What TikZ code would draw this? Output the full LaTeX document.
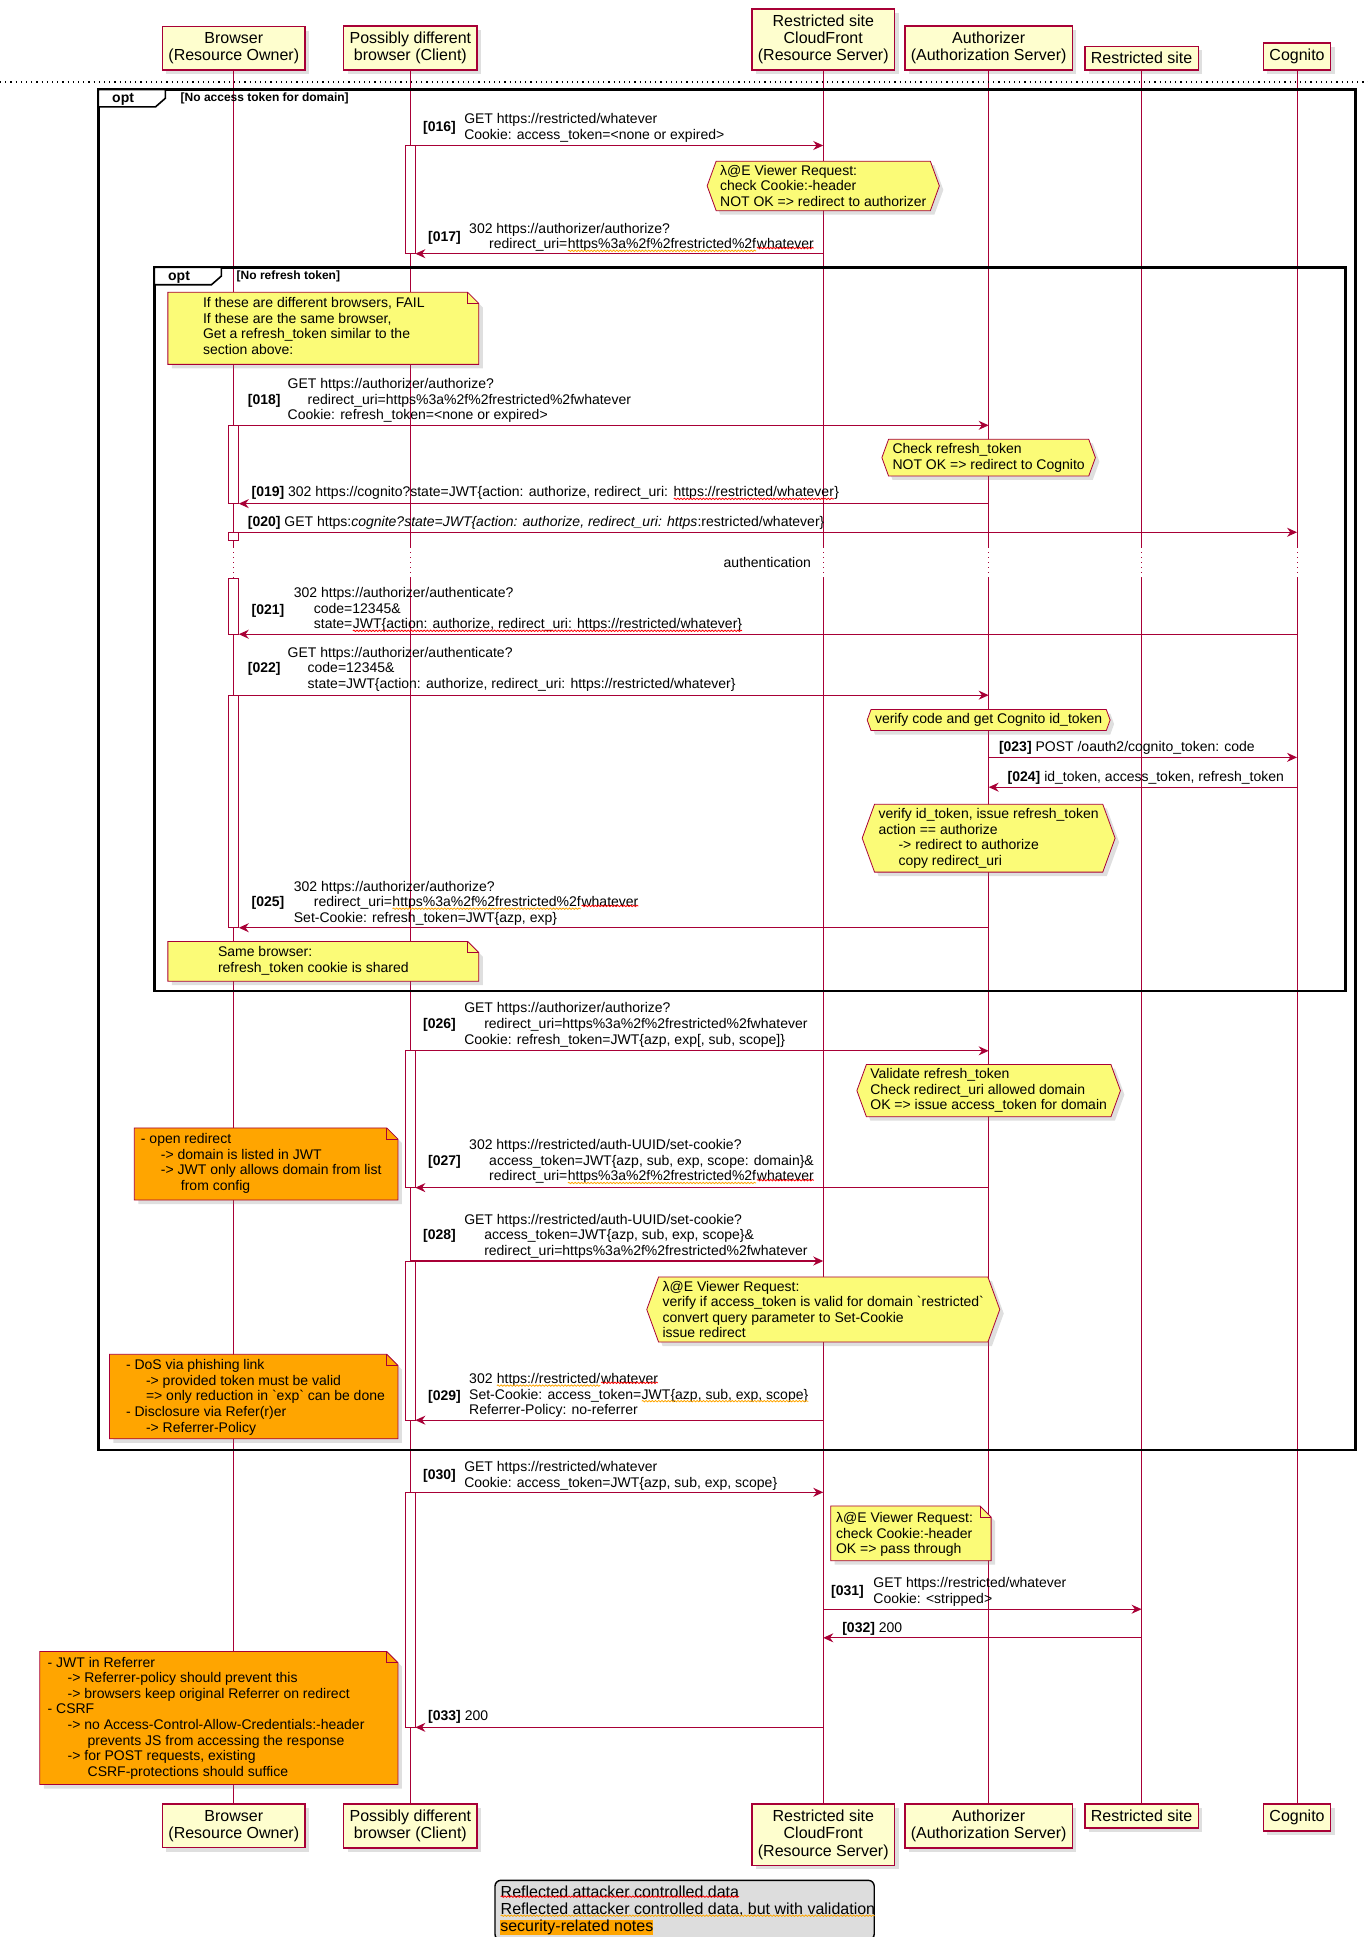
\documentclass[tikz,border=0pt]{standalone}
\usepackage{fontspec}
\setmainfont{Liberation Sans}
\usetikzlibrary{arrows.meta,shapes.symbols,shadows,decorations.pathmorphing}
\definecolor{lc}{HTML}{A80036}
\definecolor{pfill}{HTML}{FEFECE}
\definecolor{ny}{HTML}{FBFB77}
\definecolor{no}{HTML}{FFA500}
\definecolor{lg}{HTML}{DDDDDD}
\newcommand\wv[2]{\tikz[x=1cm,y=1cm,baseline=(wvn.base),every node/.style={}]{\node[inner sep=0pt,outer sep=0pt] (wvn) {#2};\draw[#1,line width=0.4pt,decorate,decoration={snake,amplitude=0.35pt,segment length=1.6pt}] ([yshift=0.4pt]wvn.base west |- wvn.south) -- ([yshift=0.4pt]wvn.south east);}}
\newcommand\rw[1]{\wv{red}{#1}}
\newcommand\ow[1]{\wv{no}{#1}}
\newcommand\ind{\hspace*{10pt}}
\newcommand\foldnote[5]{%
 \draw[lc,fill=#1,drop shadow={opacity=0.25,shadow xshift=2pt,shadow yshift=-2pt}] (#2,#3) -- (#4-9,#3) -- (#4,#3+9) -- (#4,#5) -- (#2,#5) -- cycle;
 \draw[lc] (#4-9,#3) -- (#4-9,#3+9) -- (#4,#3+9);}
\begin{document}
\begin{tikzpicture}[x=0.6218pt,y=-0.6218pt,
  every node/.style={font=\fontsize{7}{7.8}\selectfont},
  part/.style={draw=lc,fill=pfill,align=center,inner sep=3pt,font=\fontsize{8}{8.6}\selectfont,line width=0.8pt,drop shadow={opacity=0.25,shadow xshift=2pt,shadow yshift=-2pt}},
  life/.style={lc,line width=0.5pt},
  msg/.style={lc,line width=0.6pt,-{Stealth[length=5pt,width=4.5pt]}},
  act/.style={lc,fill=white,line width=0.5pt},
  lbl/.style={anchor=north west,inner sep=0pt,align=left},
  idx/.style={anchor=west,inner sep=0pt,font=\fontsize{7}{7.8}\selectfont\bfseries},
  hex/.style={signal,signal to=west and east,signal pointer angle=140,draw=lc,fill=ny,align=left,inner sep=2pt,drop shadow={opacity=0.25,shadow xshift=2pt,shadow yshift=-2pt}},
  frame/.style={line width=1.3pt,black}]
\useasboundingbox (0,0) rectangle (1100,1557.6);
% participants
\node[part,anchor=south] (b) at (188,57) {Browser\\(Resource Owner)};
\node[part,anchor=south] (c) at (330,57) {Possibly different\\browser (Client)};
\node[part,anchor=south] (cf) at (662,57) {Restricted site\\CloudFront\\(Resource Server)};
\node[part,anchor=south] (au) at (795,57) {Authorizer\\(Authorization Server)};
\node[part,anchor=south] (rs) at (918,57) {Restricted site};
\node[part,anchor=south] (cg) at (1043,57) {Cognito};
\node[part,anchor=north] (b2) at (188,1450) {Browser\\(Resource Owner)};
\node[part,anchor=north] (c2) at (330,1450) {Possibly different\\browser (Client)};
\node[part,anchor=north] (cf2) at (662,1450) {Restricted site\\CloudFront\\(Resource Server)};
\node[part,anchor=north] (au2) at (795,1450) {Authorizer\\(Authorization Server)};
\node[part,anchor=north] (rs2) at (918,1450) {Restricted site};
\node[part,anchor=north] (cg2) at (1043,1450) {Cognito};
\foreach \p in {b,c,cf,au,rs,cg}{
  \draw[life] (\p.south) -- (\p.south |- 0,440);
  \draw[life,dotted] (\p.south |- 0,440) -- (\p.south |- 0,465);
  \draw[life] (\p.south |- 0,465) -- (\p2.north);}
\draw[dotted,line width=0.6pt] (0,66) -- (1100,66);
\node (auth) at (617,452) {authentication};
% frames
\draw[frame] (79,72) rectangle (1090,1166);
\draw[line width=0.8pt,fill=white] (79,72) -- (133,72) -- (133,79) -- (125,86) -- (79,86) -- cycle;
\node[font=\fontsize{7}{7.8}\selectfont\bfseries] (o1) at (99,80) {opt};
\node[anchor=west,inner sep=0pt,font=\fontsize{6}{7}\selectfont\bfseries] (o1t) at (145,79) {[No access token for domain]};
\draw[frame] (124,215) rectangle (1082,797);
\draw[line width=0.8pt,fill=white] (124,215) -- (178,215) -- (178,222) -- (170,229) -- (124,229) -- cycle;
\node[font=\fontsize{7}{7.8}\selectfont\bfseries] (o2) at (144,223) {opt};
\node[anchor=west,inner sep=0pt,font=\fontsize{6}{7}\selectfont\bfseries] (o2t) at (190,222) {[No refresh token]};
% activations
\draw[act] (326,117) rectangle (334,204);
\draw[act] (184,342) rectangle (192,405);
\draw[act] (184,428) rectangle (192,435);
\draw[act] (184,465) rectangle (192,510);
\draw[act] (184,559) rectangle (192,746);
\draw[act] (326,845) rectangle (334,955);
\draw[act] (326,1014) rectangle (334,1142);
\draw[act] (326,1200) rectangle (334,1389);
% 016
\draw[msg] (c.south |- 0,117) -- (cf.south |- 0,117);
\node[idx] (i016) at (340,103) {[016]};
\node[lbl] (l016) at (373,91) {GET https://restricted/whatever\\Cookie: access\_token=<none or expired>};
\node[hex] (h1) at (662,149.5) {λ@E Viewer Request:\\check Cookie:-header\\NOT OK => redirect to authorizer};
% 017
\draw[msg] (cf.south |- 0,204) -- (334,204);
\node[idx] (i017) at (344,191) {[017]};
\node[lbl] (l017) at (377,179) {302 https://authorizer/authorize?\\\ind redirect\_uri=\ow{https\%3a\%2f\%2frestricted\%2f}\rw{whatever}};
% inner
\foldnote{ny}{135}{235}{385}{293}
\node[lbl] (n1) at (163,239) {If these are different browsers, FAIL\\If these are the same browser,\\Get a refresh\_token similar to the\\section above:};
% 018
\draw[msg] (192,342) -- (au.south |- 0,342);
\node[idx] (i018) at (199,322) {[018]};
\node[lbl] (l018) at (231,304) {GET https://authorizer/authorize?\\\ind redirect\_uri=https\%3a\%2f\%2frestricted\%2fwhatever\\Cookie: refresh\_token=<none or expired>};
\node[hex] (h2) at (795,368) {Check refresh\_token\\NOT OK => redirect to Cognito};
% 019
\draw[msg] (au.south |- 0,405) -- (192,405);
\node[lbl] (l019) at (202,391) {\textbf{[019]} 302 https://cognito?state=JWT\{action: authorize, redirect\_uri: \rw{https://restricted/whatever}\}};
% 020
\draw[msg] (192,428) -- (cg.south |- 0,428);
\node[lbl] (l020) at (199,415) {\textbf{[020]} GET https:\textit{cognite?state=JWT\{action: authorize, redirect\_uri: https}:restricted/whatever\}};
% 021
\draw[msg] (cg.south |- 0,510) -- (192,510);
\node[idx] (i021) at (202,491) {[021]};
\node[lbl] (l021) at (236,472) {302 https://authorizer/authenticate?\\\ind code=12345\&\\\ind state=\rw{JWT\{action: authorize, redirect\_uri: https://restricted/whatever\}}};
% 022
\draw[msg] (192,559) -- (au.south |- 0,559);
\node[idx] (i022) at (199,538) {[022]};
\node[lbl] (l022) at (231,520) {GET https://authorizer/authenticate?\\\ind code=12345\&\\\ind state=JWT\{action: authorize, redirect\_uri: https://restricted/whatever\}};
\node[hex] (h3) at (795,579) {verify code and get Cognito id\_token};
% 023 024
\draw[msg] (au.south |- 0,609) -- (cg.south |- 0,609);
\node[lbl] (l023) at (803,596) {\textbf{[023]} POST /oauth2/cognito\_token: code};
\draw[msg] (cg.south |- 0,633) -- (au.south |- 0,633);
\node[lbl] (l024) at (810,620) {\textbf{[024]} id\_token, access\_token, refresh\_token};
\node[hex] (h4) at (795,674) {verify id\_token, issue refresh\_token\\action == authorize\\\ind -> redirect to authorize\\\ind copy redirect\_uri};
% 025
\draw[msg] (au.south |- 0,746) -- (192,746);
\node[idx] (i025) at (202,726) {[025]};
\node[lbl] (l025) at (236,708) {302 https://authorizer/authorize?\\\ind redirect\_uri=\ow{https\%3a\%2f\%2frestricted\%2f}\rw{whatever}\\Set-Cookie: refresh\_token=JWT\{azp, exp\}};
\foldnote{ny}{135}{757}{385}{789}
\node[lbl] (n2) at (175,761) {Same browser:\\refresh\_token cookie is shared};
% 026
\draw[msg] (c.south |- 0,845) -- (au.south |- 0,845);
\node[idx] (i026) at (340,824) {[026]};
\node[lbl] (l026) at (373,806) {GET https://authorizer/authorize?\\\ind redirect\_uri=https\%3a\%2f\%2frestricted\%2fwhatever\\Cookie: refresh\_token=JWT\{azp, exp[, sub, scope]\}};
\node[hex] (h5) at (795,877) {Validate refresh\_token\\Check redirect\_uri allowed domain\\OK => issue access\_token for domain};
\foldnote{no}{108}{907}{320}{965}
\node[lbl] (n3) at (113,911) {- open redirect\\\ind -> domain is listed in JWT\\\ind -> JWT only allows domain from list\\\ind\ind from config};
% 027
\draw[msg] (au.south |- 0,955) -- (334,955);
\node[idx] (i027) at (344,934) {[027]};
\node[lbl] (l027) at (377,916) {302 https://restricted/auth-UUID/set-cookie?\\\ind access\_token=JWT\{azp, sub, exp, scope: domain\}\&\\\ind redirect\_uri=\ow{https\%3a\%2f\%2frestricted\%2f}\rw{whatever}};
% 028
\draw[msg] (c.south |- 0,1014) -- (cf.south |- 0,1014);
\node[idx] (i028) at (340,994) {[028]};
\node[lbl] (l028) at (373,976) {GET https://restricted/auth-UUID/set-cookie?\\\ind access\_token=JWT\{azp, sub, exp, scope\}\&\\\ind redirect\_uri=https\%3a\%2f\%2frestricted\%2fwhatever};
\node[hex] (h6) at (662,1053) {λ@E Viewer Request:\\verify if access\_token is valid for domain \textasciigrave restricted\textasciigrave\\convert query parameter to Set-Cookie\\issue redirect};
\foldnote{no}{88}{1089}{320}{1157}
\node[lbl] (n4) at (101,1093) {- DoS via phishing link\\\ind -> provided token must be valid\\\ind => only reduction in \textasciigrave exp\textasciigrave\ can be done\\- Disclosure via Refer(r)er\\\ind -> Referrer-Policy};
% 029
\draw[msg] (cf.south |- 0,1142) -- (334,1142);
\node[idx] (i029) at (344,1123) {[029]};
\node[lbl] (l029) at (377,1104) {302 \ow{https://restricted/}\rw{whatever}\\Set-Cookie: access\_token=\ow{JWT\{azp, sub, exp, scope\}}\\Referrer-Policy: no-referrer};
% 030
\draw[msg] (c.south |- 0,1200) -- (cf.south |- 0,1200);
\node[idx] (i030) at (340,1187) {[030]};
\node[lbl] (l030) at (373,1175) {GET https://restricted/whatever\\Cookie: access\_token=JWT\{azp, sub, exp, scope\}};
\foldnote{ny}{668}{1211}{797}{1255}
\node[lbl] (n5) at (672,1216) {λ@E Viewer Request:\\check Cookie:-header\\OK => pass through};
% 031 032
\draw[msg] (cf.south |- 0,1294) -- (rs.south |- 0,1294);
\node[idx] (i031) at (668,1280) {[031]};
\node[lbl] (l031) at (702,1268) {GET https://restricted/whatever\\Cookie: <stripped>};
\draw[msg] (rs.south |- 0,1317) -- (cf.south |- 0,1317);
\node[lbl] (l032) at (677,1304) {\textbf{[032]} 200};
\foldnote{no}{32}{1328}{320}{1435}
\node[lbl] (n6) at (38,1332) {- JWT in Referrer\\\ind -> Referrer-policy should prevent this\\\ind -> browsers keep original Referrer on redirect\\- CSRF\\\ind -> no Access-Control-Allow-Credentials:-header\\\ind\ind prevents JS from accessing the response\\\ind -> for POST requests, existing\\\ind\ind CSRF-protections should suffice};
% 033
\draw[msg] (cf.south |- 0,1389) -- (334,1389);
\node[lbl] (l033) at (344,1375) {\textbf{[033]} 200};
% legend
\draw[rounded corners=3pt,fill=lg,line width=0.7pt] (398,1512) rectangle (703,1560);
\node[lbl,font=\fontsize{8}{8.6}\selectfont] (leg) at (402,1516) {\rw{Reflected attacker controlled data}\\\ow{Reflected attacker controlled data, but with validation}\\{\fboxsep=0pt\colorbox{no}{security-related notes}}};
\end{tikzpicture}
\end{document}
